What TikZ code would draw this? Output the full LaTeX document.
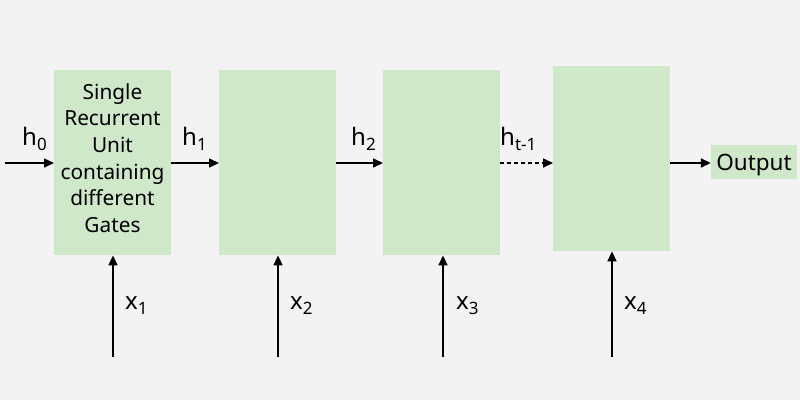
\documentclass[tikz,border=0pt]{standalone}
\usepackage{fontspec}
\setmainfont{Noto Sans}
\usetikzlibrary{arrows.meta,positioning}
\definecolor{bg}{HTML}{F3F3F3}
\definecolor{cellgreen}{HTML}{D0E8CA}
\tikzset{
  cell/.style={fill=cellgreen, draw=none, minimum width=117pt, minimum height=185pt, inner sep=0pt, anchor=north west},
  conn/.style={line width=1.6pt, -{Triangle[length=10pt,width=9pt]}},
  lbl/.style={font=\fontsize{24}{28}\selectfont, inner sep=0pt},
}
\newcommand{\sub}[1]{\raisebox{-0.4ex}{\fontsize{17}{18}\selectfont #1}}
\begin{document}
\begin{tikzpicture}[x=1pt,y=-1pt]
\fill[bg] (0,0) rectangle (800,400);
\useasboundingbox (0,0) rectangle (800,400);
% cells
\node[cell] (c1) at (54,70) {};
\node[align=center, inner sep=0pt, font=\fontsize{20.8}{26.7}\selectfont] (t1) at (112.5,158) {Single\\Recurrent\\Unit\\containing\\different\\Gates};
\node[cell] (c2) at (219,70) {};
\node[cell] (c3) at (383,70) {};
\node[cell] (c4) at (553,66) {};
\node[fill=cellgreen, minimum width=86pt, minimum height=34pt, inner sep=0pt, text depth=0pt, text height=16pt, font=\fontsize{22.5}{24}\selectfont] (out) at (754,162) {Output};
% horizontal coordinates
\coordinate (start) at (5,163);
\draw[conn] (start) -- (c1.west |- start);
\draw[conn] (c1.east |- start) -- (c2.west |- start);
\draw[conn] (c2.east |- start) -- (c3.west |- start);
\draw[conn, dash pattern=on 4pt off 3pt] (c3.east |- start) -- (c4.west |- start);
\draw[conn] (c4.east |- start) -- (out.west |- start);
% vertical inputs
\coordinate (b1) at (113,357);
\coordinate (b2) at (278,357);
\coordinate (b3) at (443,357);
\coordinate (b4) at (612,357);
\draw[conn] (b1) -- (b1 |- c1.south);
\draw[conn] (b2) -- (b2 |- c2.south);
\draw[conn] (b3) -- (b3 |- c3.south);
\draw[conn] (b4) -- (b4 |- c4.south);
% labels
\node[lbl, anchor=base west] (h0) at (22,145) {h\sub{0}};
\node[lbl, anchor=base west] (h1) at (182,145) {h\sub{1}};
\node[lbl, anchor=base west] (h2) at (351,145) {h\sub{2}};
\node[lbl, anchor=base west] (ht) at (500,145) {h\sub{t-1}};
\node[lbl, anchor=base west] (x1) at (125,309) {x\sub{1}};
\node[lbl, anchor=base west] (x2) at (290,309) {x\sub{2}};
\node[lbl, anchor=base west] (x3) at (456,309) {x\sub{3}};
\node[lbl, anchor=base west] (x4) at (624,309) {x\sub{4}};
\end{tikzpicture}
\end{document}
